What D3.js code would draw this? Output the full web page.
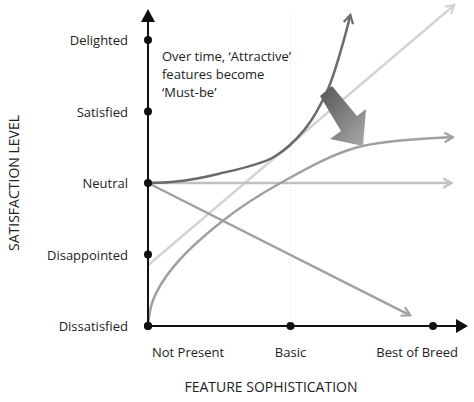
<!DOCTYPE html>
<html><head><meta charset="utf-8">
<script src="https://cdn.jsdelivr.net/npm/d3@7"></script>
<style>body{margin:0;background:#fff}text{font-family:"Open Sans",sans-serif;fill:#222}</style>
</head><body><svg id="c" width="474" height="402"></svg>
<script>
var yLevels = ['Dissatisfied', 'Disappointed', 'Neutral', 'Satisfied', 'Delighted'];
var xLevels = ['Not Present', 'Basic', 'Best of Breed'];
var attractive = [[0, 2], [0.2, 2.02], [0.5, 2.13], [0.88, 2.36], [1.1, 2.75], [1.26, 3.3], [1.36, 3.9], [1.42, 4.35]];
var linear = [[0, 0.85], [2.15, 4.49]];
var mustBe = [[0, 0], [0.035, 0.36], [0.18, 0.83], [0.53, 1.48], [0.93, 2.0], [1.47, 2.5], [2.14, 2.64]];
var neutral = [[0, 2], [2.13, 2]];
var reverse = [[0, 2], [1.84, 0.15]];

var svg = d3.select('#c');
var x = d3.scaleLinear().domain([0, 2]).range([148, 433]);
var y = d3.scaleLinear().domain([0, 4]).range([326, 40]);

var defs = svg.append('defs');
function marker(id, col) {
    defs.append('marker').attr('id', id).attr('viewBox', '0 0 10 10')
        .attr('refX', 8).attr('refY', 5)
        .attr('orient', 'auto').attr('markerUnits', 'userSpaceOnUse')
        .attr('markerWidth', 12).attr('markerHeight', 12)
        .append('path').attr('d', 'M1,1L8,5L1,9').attr('fill', 'none')
        .attr('stroke', col).attr('stroke-width', 1.8);
}
var g = defs.append('linearGradient').attr('id', 'gr').attr('x1', 0).attr('y1', 0).attr('x2', 1).attr('y2', 1);
g.append('stop').attr('offset', 0).attr('stop-color', '#555');
g.append('stop').attr('offset', 1).attr('stop-color', '#aaa');

// dotted guide at Basic
svg.append('line').attr('x1', x(1)).attr('x2', x(1)).attr('y1', 14).attr('y2', 326)
    .attr('stroke', '#ddd').attr('stroke-dasharray', '1,3');

var line = d3.line().x(function(d) { return x(d[0]) }).y(function(d) { return y(d[1]) }).curve(d3.curveCatmullRom);
var series = [
    {d: linear, c: '#d4d4d4', id: 'm1'},
    {d: neutral, c: '#c0c0c0', id: 'm2'},
    {d: reverse, c: '#a0a0a0', id: 'm3'},
    {d: mustBe, c: '#a0a0a0', id: 'm4'},
    {d: attractive, c: '#6a6a6a', id: 'm5'}
];
series.forEach(function(s) {
    marker(s.id, s.c);
    svg.append('path').attr('d', line(s.d)).attr('fill', 'none').attr('stroke', s.c)
        .attr('stroke-width', 2.5).attr('marker-end', 'url(#' + s.id + ')');
});

// big arrow
svg.append('path').attr('d', 'M320,96 L332,86 L357,116 L366,109 L363,146 L330,139 L341,131 Z')
    .attr('fill', 'url(#gr)');

// axes
svg.append('line').attr('x1', 148).attr('x2', 458).attr('y1', 326).attr('y2', 326).attr('stroke', '#111').attr('stroke-width', 2);
svg.append('line').attr('x1', 148).attr('x2', 148).attr('y1', 326).attr('y2', 20).attr('stroke', '#111').attr('stroke-width', 2);
svg.append('path').attr('d', 'M456,319L468,326L456,333Z').attr('fill', '#111');
svg.append('path').attr('d', 'M141,22L148,9L155,22Z').attr('fill', '#111');

svg.selectAll('.yd').data(yLevels).enter().append('circle')
    .attr('cx', 148).attr('cy', function(d, i) { return y(i) }).attr('r', 4).attr('fill', '#111');
svg.selectAll('.yl').data(yLevels).enter().append('text')
    .attr('x', 128).attr('y', function(d, i) { return y(i) + 5 }).attr('text-anchor', 'end')
    .attr('font-size', 13).text(function(d) { return d });
svg.selectAll('.xd').data(xLevels).enter().append('circle')
    .attr('cx', function(d, i) { return x(i) }).attr('cy', 326).attr('r', 4).attr('fill', '#111');
svg.selectAll('.xl').data(xLevels).enter().append('text')
    .attr('x', function(d, i) { return i === 0 ? 152 : (i === 1 ? x(1) : 458) })
    .attr('y', 357).attr('text-anchor', function(d, i) { return ['start', 'middle', 'end'][i] })
    .attr('font-size', 13).text(function(d) { return d });

svg.append('text').attr('transform', 'translate(19,183) rotate(-90)').attr('text-anchor', 'middle')
    .attr('font-size', 14).text('SATISFACTION LEVEL');
svg.append('text').attr('x', 271).attr('y', 392).attr('text-anchor', 'middle')
    .attr('font-size', 14).text('FEATURE SOPHISTICATION');

['Over time, \u2018Attractive\u2019', 'features become', '\u2018Must-be\u2019'].forEach(function(t, i) {
    svg.append('text').attr('x', 162).attr('y', 61 + i * 18).attr('font-size', 13).text(t);
});
</script></body></html>
